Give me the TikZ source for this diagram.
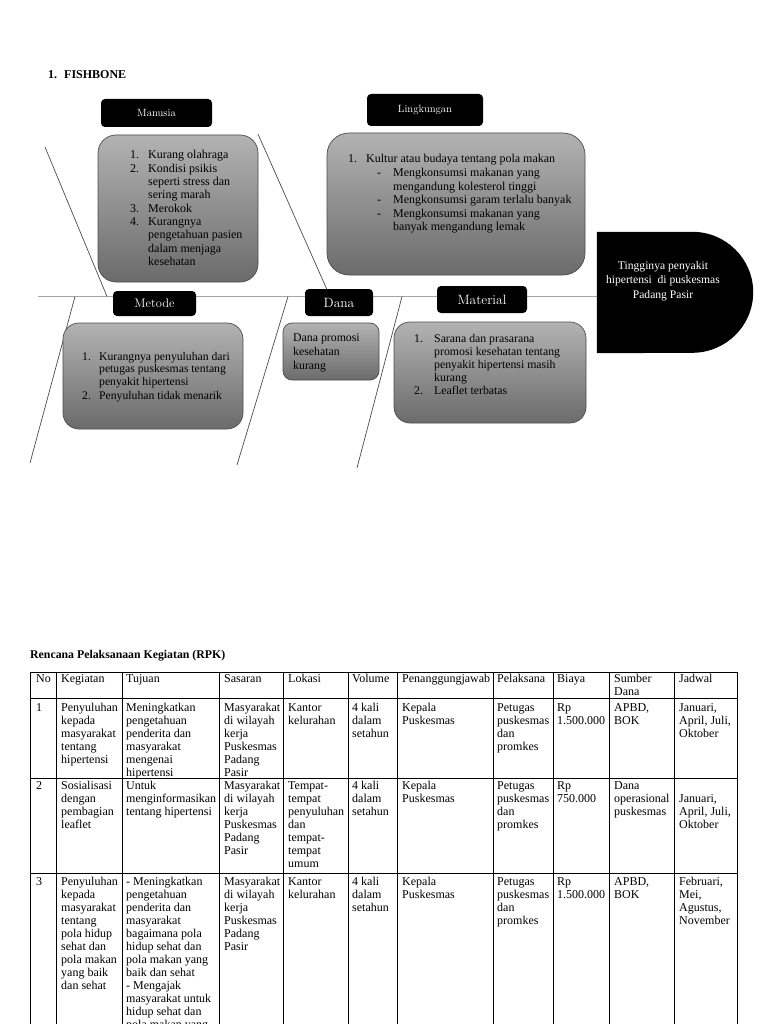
\documentclass[tikz,border=0pt]{standalone}
\usepackage{fontspec}
\newfontfamily\tnr{Liberation Serif}
\newcommand\nm[2]{\makebox[#1][l]{#2}}
\newcommand\tcell[4]{\node[cell] (#1) at (#2,#3) {\begin{tabular}[t]{@{}l@{}}#4\end{tabular}};}
\begin{document}
\begin{tikzpicture}[x=1pt,y=-1pt,
  bone/.style={draw=black!70, line width=0.7pt},
  spine/.style={draw=black!35, line width=1.6pt},
  gbox/.style={draw=black!70, line width=0.7pt, top color=black!30, bottom color=black!58, rounded corners=#1, inner sep=0pt},
  lbl/.style={fill=black, rounded corners=4pt, text=white, inner sep=0pt},
  btxt/.style={anchor=base west, inner sep=0pt, text=black},
  cell/.style={anchor=base west, inner sep=0pt, font={\tnr\fontsize{12}{13}\selectfont}},
  tline/.style={draw=black, line width=0.8pt}]
\useasboundingbox[fill=white] (0,0) rectangle (768,1024);

% ---------- titles
\node[btxt, font={\tnr\bfseries\fontsize{12}{14}\selectfont}] (title1) at (48,79) {\nm{16pt}{1.}FISHBONE};
\node[btxt, font={\tnr\bfseries\fontsize{11.8}{14}\selectfont}] (title2) at (30,658) {Rencana Pelaksanaan Kegiatan (RPK)};

% ---------- head placeholder (for anchors)
\node[minimum width=95pt, minimum height=121pt, inner sep=0pt] (head) at (644.5,292.5) {};

% ---------- spine and bones
\coordinate (sL) at (38,296.5);
\draw[spine] (sL) -- (sL -| head.west);
\coordinate (b1t) at (45,147);  \coordinate (b1b) at (107,296.5);
\coordinate (b2t) at (258,134); \coordinate (b2b) at (330,296.5);
\coordinate (b3t) at (75,296.5); \coordinate (b3b) at (30,463);
\coordinate (b4t) at (288,296.5); \coordinate (b4b) at (237,465);
\coordinate (b5t) at (402,296.5); \coordinate (b5b) at (357,468);
\draw[bone] (b1t) -- (b1b);
\draw[bone] (b2t) -- (b2b);
\draw[bone] (b3t) -- (b3b);
\draw[bone] (b4t) -- (b4b);
\draw[bone] (b5t) -- (b5b);

% ---------- grey boxes
\node[gbox=18pt, minimum width=160pt, minimum height=147pt] (mbox) at (178,208.5) {};
\node[gbox=22pt, minimum width=258pt, minimum height=142pt] (lbox) at (456,204) {};
\node[gbox=16pt, minimum width=180pt, minimum height=106pt] (tbox) at (153,376) {};
\node[gbox=9pt, minimum width=96pt, minimum height=57pt] (dbox) at (331,351.5) {};
\node[gbox=16pt, minimum width=192pt, minimum height=101pt] (mtbox) at (490,372.5) {};

% ---------- box texts
\node[btxt, font={\tnr\fontsize{12}{13.33}\selectfont}] (mtxt) at (130,159) {\begin{tabular}[t]{@{}l@{}}
\nm{18pt}{1.}Kurang olahraga\\
\nm{18pt}{2.}Kondisi psikis\\
\nm{18pt}{}seperti stress dan\\
\nm{18pt}{}sering marah\\
\nm{18pt}{3.}Merokok\\
\nm{18pt}{4.}Kurangnya\\
\nm{18pt}{}pengetahuan pasien\\
\nm{18pt}{}dalam menjaga\\
\nm{18pt}{}kesehatan
\end{tabular}};

\node[btxt, font={\tnr\fontsize{12}{13.6}\selectfont}] (ltxt) at (348,163) {\begin{tabular}[t]{@{}l@{}}
\nm{18pt}{1.}Kultur atau budaya tentang pola makan\\
\hspace*{29pt}\nm{16pt}{-}Mengkonsumsi makanan yang\\
\hspace*{45pt}mengandung kolesterol tinggi\\
\hspace*{29pt}\nm{16pt}{-}Mengkonsumsi garam terlalu banyak\\
\hspace*{29pt}\nm{16pt}{-}Mengkonsumsi makanan yang\\
\hspace*{45pt}banyak mengandung lemak
\end{tabular}};

\node[btxt, font={\tnr\fontsize{11.7}{12.7}\selectfont}] (ttxt) at (82,360) {\begin{tabular}[t]{@{}l@{}}
\nm{17pt}{1.}Kurangnya penyuluhan dari\\
\nm{17pt}{}petugas puskesmas tentang\\
\nm{17pt}{}penyakit hipertensi\\[1.5pt]
\nm{17pt}{2.}Penyuluhan tidak menarik
\end{tabular}};

\node[btxt, font={\tnr\fontsize{11.8}{14}\selectfont}] (dtxt) at (293,341) {\begin{tabular}[t]{@{}l@{}}
Dana promosi\\
kesehatan\\
kurang
\end{tabular}};

\node[btxt, font={\tnr\fontsize{11.8}{13.2}\selectfont}] (mttxt) at (414,342) {\begin{tabular}[t]{@{}l@{}}
\nm{20pt}{1.}Sarana dan prasarana\\
\nm{20pt}{}promosi kesehatan tentang\\
\nm{20pt}{}penyakit hipertensi masih\\
\nm{20pt}{}kurang\\
\nm{20pt}{2.}Leaflet terbatas
\end{tabular}};

% ---------- black labels
\node[lbl, minimum width=111pt, minimum height=28pt, font={\fontsize{10.5}{12}\selectfont}] (lman) at (156.5,113) {Manusia};
\node[lbl, minimum width=116pt, minimum height=32pt, font={\fontsize{10.5}{12}\selectfont}] (lling) at (425,110) {Lingkungan};
\node[lbl, minimum width=83pt, minimum height=25pt, font={\fontsize{12.5}{14}\selectfont}] (lmet) at (154.5,303.5) {Metode};
\node[lbl, minimum width=68pt, minimum height=27pt, font={\fontsize{13.5}{15}\selectfont}] (ldana) at (339,302.5) {Dana};
\node[lbl, minimum width=90pt, minimum height=27pt, font={\fontsize{13.5}{15}\selectfont}] (lmat) at (482,299.5) {Material};

% ---------- head
\fill[black] (head.north west) -- (head.north east) arc[start angle=90, end angle=-90, x radius=61pt, y radius=60.5pt] -- (head.south west) -- cycle;
\node[anchor=base, inner sep=0pt, text=white, font={\tnr\fontsize{11.6}{14.5}\selectfont}] (htxt) at (663,269) {\begin{tabular}[t]{@{}c@{}}Tingginya penyakit\\hipertensi\ \ di puskesmas\\Padang Pasir\end{tabular}};

% ---------- table grid
\foreach \xx in {30,56,122,219,283,348,397,493,553,609,674,737}
  \draw[tline] (\xx,672) -- (\xx,1030);
\foreach \yy in {672,698,778,873}
  \draw[tline] (30,\yy) -- (737,\yy);

% header
\tcell{h1}{36}{682}{No}
\tcell{h2}{61}{682}{Kegiatan}
\tcell{h3}{126}{682}{Tujuan}
\tcell{h4}{224}{682}{Sasaran}
\tcell{h5}{288}{682}{Lokasi}
\tcell{h6}{352}{682}{Volume}
\tcell{h7}{402}{682}{Penanggungjawab}
\tcell{h8}{497}{682}{Pelaksana}
\tcell{h9}{557}{682}{Biaya}
\tcell{h10}{614}{682}{Sumber\\Dana}
\tcell{h11}{679}{682}{Jadwal}

% row 1
\tcell{r1c1}{36}{711}{1}
\tcell{r1c2}{61}{711}{Penyuluhan\\kepada\\masyarakat\\tentang\\hipertensi}
\tcell{r1c3}{126}{711}{Meningkatkan\\pengetahuan\\penderita dan\\masyarakat\\mengenai\\hipertensi}
\tcell{r1c4}{224}{711}{Masyarakat\\di wilayah\\kerja\\Puskesmas\\Padang\\Pasir}
\tcell{r1c5}{288}{711}{Kantor\\kelurahan}
\tcell{r1c6}{352}{711}{4 kali\\dalam\\setahun}
\tcell{r1c7}{402}{711}{Kepala\\Puskesmas}
\tcell{r1c8}{497}{711}{Petugas\\puskesmas\\dan\\promkes}
\tcell{r1c9}{557}{711}{Rp\\1.500.000}
\tcell{r1c10}{614}{711}{APBD,\\BOK}
\tcell{r1c11}{679}{711}{Januari,\\April, Juli,\\Oktober}

% row 2
\tcell{r2c1}{36}{789}{2}
\tcell{r2c2}{61}{789}{Sosialisasi\\dengan\\pembagian\\leaflet}
\tcell{r2c3}{126}{789}{Untuk\\menginformasikan\\tentang hipertensi}
\tcell{r2c4}{224}{789}{Masyarakat\\di wilayah\\kerja\\Puskesmas\\Padang\\Pasir}
\tcell{r2c5}{288}{789}{Tempat-\\tempat\\penyuluhan\\dan\\tempat-\\tempat\\umum}
\tcell{r2c6}{352}{789}{4 kali\\dalam\\setahun}
\tcell{r2c7}{402}{789}{Kepala\\Puskesmas}
\tcell{r2c8}{497}{789}{Petugas\\puskesmas\\dan\\promkes}
\tcell{r2c9}{557}{789}{Rp\\750.000}
\tcell{r2c10}{614}{789}{Dana\\operasional\\puskesmas}
\tcell{r2c11}{679}{802}{Januari,\\April, Juli,\\Oktober}

% row 3
\tcell{r3c1}{36}{885}{3}
\tcell{r3c2}{61}{885}{Penyuluhan\\kepada\\masyarakat\\tentang\\pola hidup\\sehat dan\\pola makan\\yang baik\\dan sehat}
\tcell{r3c3}{126}{885}{- Meningkatkan\\pengetahuan\\penderita dan\\masyarakat\\bagaimana pola\\hidup sehat dan\\pola makan yang\\baik dan sehat\\- Mengajak\\masyarakat untuk\\hidup sehat dan\\pola makan yang}
\tcell{r3c4}{224}{885}{Masyarakat\\di wilayah\\kerja\\Puskesmas\\Padang\\Pasir}
\tcell{r3c5}{288}{885}{Kantor\\kelurahan}
\tcell{r3c6}{352}{885}{4 kali\\dalam\\setahun}
\tcell{r3c7}{402}{885}{Kepala\\Puskesmas}
\tcell{r3c8}{497}{885}{Petugas\\puskesmas\\dan\\promkes}
\tcell{r3c9}{557}{885}{Rp\\1.500.000}
\tcell{r3c10}{614}{885}{APBD,\\BOK}
\tcell{r3c11}{679}{885}{Februari,\\Mei,\\Agustus,\\November}
\end{tikzpicture}
\end{document}
